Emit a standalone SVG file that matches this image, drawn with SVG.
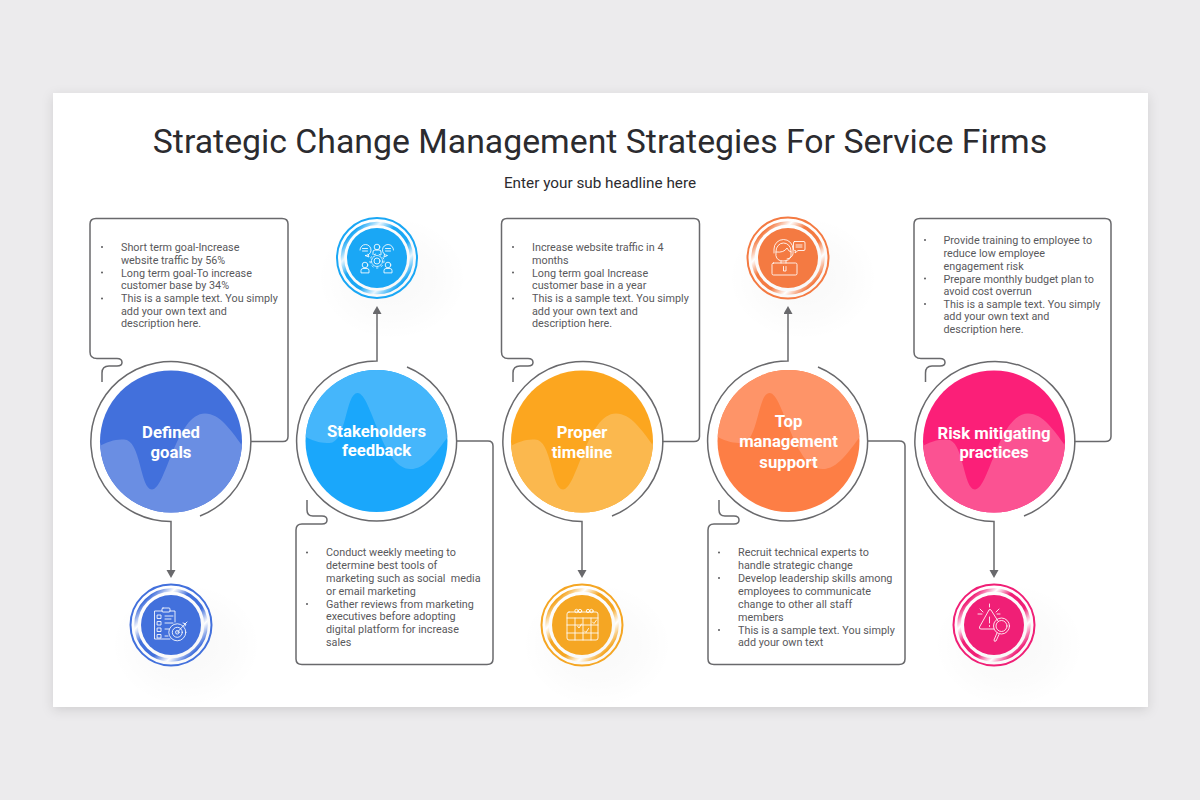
<svg xmlns="http://www.w3.org/2000/svg" width="1200" height="800" viewBox="0 0 1200 800">
<style>
text{font-family:Roboto,"Liberation Sans",sans-serif}
.title{font-size:33.8px;fill:#2b2b2f;text-anchor:middle}
.sub{font-size:15.3px;fill:#2b2b2f;text-anchor:middle}
.b{font-size:10.8px;fill:#59595c}
.l{font-size:16.7px;font-weight:700;fill:#fff;text-anchor:middle}
.c{fill:none;stroke:#69696c;stroke-width:1.5}
.i{fill:none;stroke:#fff;stroke-width:1;stroke-opacity:.85;stroke-linecap:round;stroke-linejoin:round}
</style>
<defs>
<filter id="cardShadow" x="-5%" y="-5%" width="110%" height="110%"><feDropShadow dx="0" dy="3" stdDeviation="6" flood-color="#000" flood-opacity=".12"/></filter>
<radialGradient id="soft"><stop offset="0" stop-color="#000" stop-opacity=".028"/><stop offset=".6" stop-color="#000" stop-opacity=".014"/><stop offset="1" stop-color="#000" stop-opacity="0"/></radialGradient>
<clipPath id="disc"><circle r="71"/></clipPath>
<path id="wave" d="M-74,6C-62,-1-55,-2-47,-2C-30,-2-31,48-19,48C-5,48 5,-28 34,-28C50,-28 62,-8 74,8L74,80L-74,80Z"/>
<marker id="arr" markerUnits="userSpaceOnUse" markerWidth="9" markerHeight="10" refX="0" refY="4.5" orient="auto"><path d="M0,0L8,4.5L0,9Z" fill="#69696c"/></marker>
<linearGradient id="gBlue" x1="0" y1="0" x2="1" y2="1"><stop offset=".14" stop-color="#4270dc"/><stop offset=".27" stop-color="#fff"/><stop offset=".4" stop-color="#4270dc"/><stop offset=".6" stop-color="#4270dc"/><stop offset=".73" stop-color="#fff"/><stop offset=".86" stop-color="#4270dc"/></linearGradient>
<linearGradient id="gSky" x1="0" y1="0" x2="1" y2="1"><stop offset=".14" stop-color="#1aa7f5"/><stop offset=".27" stop-color="#e8f6ff"/><stop offset=".4" stop-color="#1aa7f5"/><stop offset=".6" stop-color="#1aa7f5"/><stop offset=".73" stop-color="#e8f6ff"/><stop offset=".86" stop-color="#1aa7f5"/></linearGradient>
<linearGradient id="gAmber" x1="0" y1="0" x2="1" y2="1"><stop offset=".14" stop-color="#f5a623"/><stop offset=".27" stop-color="#fff"/><stop offset=".4" stop-color="#f5a623"/><stop offset=".6" stop-color="#f5a623"/><stop offset=".73" stop-color="#fff"/><stop offset=".86" stop-color="#f5a623"/></linearGradient>
<linearGradient id="gOrange" x1="0" y1="0" x2="1" y2="1"><stop offset=".14" stop-color="#f47a42"/><stop offset=".27" stop-color="#fff"/><stop offset=".4" stop-color="#f47a42"/><stop offset=".6" stop-color="#f47a42"/><stop offset=".73" stop-color="#fff"/><stop offset=".86" stop-color="#f47a42"/></linearGradient>
<linearGradient id="gPink" x1="0" y1="0" x2="1" y2="1"><stop offset=".14" stop-color="#f01f76"/><stop offset=".27" stop-color="#fff"/><stop offset=".4" stop-color="#f01f76"/><stop offset=".6" stop-color="#f01f76"/><stop offset=".73" stop-color="#fff"/><stop offset=".86" stop-color="#f01f76"/></linearGradient>
</defs>

<rect width="1200" height="800" fill="#ecebed"/>
<rect x="53" y="93" width="1095" height="614" fill="#fff" filter="url(#cardShadow)"/>
<text class="title" x="600" y="153">Strategic Change Management Strategies For Service Firms</text>
<text class="sub" x="600" y="188">Enter your sub headline here</text>

<g id="shadows">
<ellipse cx="186" cy="645" rx="75" ry="62" fill="url(#soft)"/>
<ellipse cx="392" cy="278" rx="75" ry="62" fill="url(#soft)"/>
<ellipse cx="597" cy="645" rx="75" ry="62" fill="url(#soft)"/>
<ellipse cx="803" cy="278" rx="75" ry="62" fill="url(#soft)"/>
<ellipse cx="1009" cy="645" rx="75" ry="62" fill="url(#soft)"/>
</g>

<g id="connectors">
<path class="c" marker-end="url(#arr)" d="M200,516A80,80 0 1 0 171,521.5V570"/>
<path class="c" marker-end="url(#arr)" d="M407,367A80,80 0 1 1 377,361V314"/>
<path class="c" marker-end="url(#arr)" d="M612,516A80,80 0 1 0 582,521.5V570"/>
<path class="c" marker-end="url(#arr)" d="M818,367A80,80 0 1 1 788,361V314"/>
<path class="c" marker-end="url(#arr)" d="M1024,516A80,80 0 1 0 994,521.5V570"/>
<path class="c" d="M251,441.5H283Q288,441.5 288,436.5V224Q288,218.500 282,218.500H96Q90,218.500 90,224V352Q90,358.500 97,358.500H117Q122,358.500 122,362.500Q122,366 117,366H109Q102,366 102,373V382"/>
<path class="c" d="M457,441H488Q493,441 493,446V659Q493,664.500 487,664.500H302Q296,664.500 296,659V530Q296,524 302,524H322Q327,524 327,520Q327,516 322,516H313Q307,516 307,510V500"/>
<path class="c" d="M662,441.500H694Q699.500,441.500 699.500,436.500V224Q699.500,218.500 694,218.500H507Q501.500,218.500 501.500,224V352Q501.500,358.500 508,358.500H528Q533,358.500 533,362.500Q533,366 528,366H520Q513,366 513,373V382"/>
<path class="c" d="M868,441H899Q905,441 905,446V659Q905,664.500 899,664.500H714Q708,664.500 708,659V530Q708,524 714,524H734Q739,524 739,520Q739,516 734,516H725Q719,516 719,510V500"/>
<path class="c" d="M1074,441.500H1105Q1111,441.500 1111,436.500V224Q1111,218.500 1105,218.500H920Q914,218.500 914,224V352Q914,358.500 921,358.500H940Q945,358.500 945,362.500Q945,366 940,366H932Q925.500,366 925.500,373V382"/>
</g>

<g id="node-defined-goals" transform="translate(171,441.5)">
<circle r="71" fill="#4270dc"/><g clip-path="url(#disc)"><use href="#wave" fill="#6a8ee3"/></g>
<text class="l" y="-3.500">Defined</text><text class="l" y="16.500">goals</text>
</g>
<g id="node-stakeholders" transform="translate(376.500,441)">
<circle r="71" fill="#1aa7fb"/><g clip-path="url(#disc)"><use href="#wave" transform="scale(1,-1)" fill="#45b6fb"/></g>
<text class="l" y="-4.500">Stakeholders</text><text class="l" y="15">feedback</text>
</g>
<g id="node-timeline" transform="translate(582,441.5)">
<circle r="71" fill="#fca61f"/><g clip-path="url(#disc)"><use href="#wave" fill="#fbb84e"/></g>
<text class="l" y="-3.500">Proper</text><text class="l" y="16">timeline</text>
</g>
<g id="node-support" transform="translate(788.500,441)">
<circle r="71" fill="#fd7e45"/><g clip-path="url(#disc)"><use href="#wave" transform="scale(1,-1)" fill="#fe9468"/></g>
<text class="l" y="-14">Top</text><text class="l" y="6">management</text><text class="l" y="26.500">support</text>
</g>
<g id="node-risk" transform="translate(994,441.5)">
<circle r="71" fill="#fb1f78"/><g clip-path="url(#disc)"><use href="#wave" fill="#fb5292"/></g>
<text class="l" y="-3">Risk mitigating</text><text class="l" y="16.500">practices</text>
</g>

<g id="text-goals">
<g class="bullets"><circle cx="102" cy="247" r="1" fill="#59595c"/><circle cx="102" cy="272.500" r="1" fill="#59595c"/><circle cx="102" cy="298.500" r="1" fill="#59595c"/></g>
<text class="b" x="121" y="250.500">Short term goal-Increase</text>
<text class="b" x="121" y="263.500">website traffic by 56%</text>
<text class="b" x="121" y="276.500">Long term goal-To increase</text>
<text class="b" x="121" y="289.200">customer base by 34%</text>
<text class="b" x="121" y="302.200">This is a sample text. You simply</text>
<text class="b" x="121" y="314.500">add your own text and</text>
<text class="b" x="121" y="327.200">description here.</text>
</g>
<g id="text-stakeholders">
<circle cx="307" cy="552.500" r="1" fill="#59595c"/><circle cx="307" cy="604" r="1" fill="#59595c"/>
<text class="b" x="326" y="556.200">Conduct weekly meeting to</text>
<text class="b" x="326" y="569">determine best tools of</text>
<text class="b" x="326" y="582" xml:space="preserve">marketing such as social  media</text>
<text class="b" x="326" y="594.700">or email marketing</text>
<text class="b" x="326" y="607.700">Gather reviews from marketing</text>
<text class="b" x="326" y="620">executives before adopting</text>
<text class="b" x="326" y="632.700">digital platform for increase</text>
<text class="b" x="326" y="645.700">sales</text>
</g>
<g id="text-timeline">
<circle cx="513" cy="247" r="1" fill="#59595c"/><circle cx="513" cy="272.500" r="1" fill="#59595c"/><circle cx="513" cy="298.500" r="1" fill="#59595c"/>
<text class="b" x="532" y="250.500">Increase website traffic in 4</text>
<text class="b" x="532" y="263.500">months</text>
<text class="b" x="532" y="276.500">Long term goal Increase</text>
<text class="b" x="532" y="289.200">customer base in a year</text>
<text class="b" x="532" y="302.200">This is a sample text. You simply</text>
<text class="b" x="532" y="314.500">add your own text and</text>
<text class="b" x="532" y="327.200">description here.</text>
</g>
<g id="text-support">
<circle cx="719" cy="552.500" r="1" fill="#59595c"/><circle cx="719" cy="578" r="1" fill="#59595c"/><circle cx="719" cy="630" r="1" fill="#59595c"/>
<text class="b" x="738" y="556">Recruit technical experts to</text>
<text class="b" x="738" y="569">handle strategic change</text>
<text class="b" x="738" y="582">Develop leadership skills among</text>
<text class="b" x="738" y="595">employees to communicate</text>
<text class="b" x="738" y="608">change to other all staff</text>
<text class="b" x="738" y="620.500">members</text>
<text class="b" x="738" y="633.500">This is a sample text. You simply</text>
<text class="b" x="738" y="646">add your own text</text>
</g>
<g id="text-risk">
<circle cx="925" cy="240" r="1" fill="#59595c"/><circle cx="925" cy="278.500" r="1" fill="#59595c"/><circle cx="925" cy="304" r="1" fill="#59595c"/>
<text class="b" x="943.500" y="244">Provide training to employee to</text>
<text class="b" x="943.500" y="256.700">reduce low employee</text>
<text class="b" x="943.500" y="269.700">engagement risk</text>
<text class="b" x="943.500" y="282.700">Prepare monthly budget plan to</text>
<text class="b" x="943.500" y="295.300">avoid cost overrun</text>
<text class="b" x="943.500" y="307.700">This is a sample text. You simply</text>
<text class="b" x="943.500" y="320.300">add your own text and</text>
<text class="b" x="943.500" y="333.300">description here.</text>
</g>

<g id="icon-target" transform="translate(171,625)">
<circle r="40.500" fill="none" stroke="#4270dc" stroke-width="2"/><circle r="35" fill="none" stroke="url(#gBlue)" stroke-width="3.500"/><circle r="30" fill="#4270dc"/>
<g class="i"><path d="M-1,-14H4V-3M-9,-14H-16.500V14H-1"/><rect x="-9" y="-17" width="8" height="4" rx="1"/>
<path d="M-13.500,-10h3.500v3.500h-3.500zM-13.500,-3.500h3.500v3.500h-3.500zM-13.500,3h3.500v3.500h-3.500zM-13.500,9.500h3.500v3.500h-3.500zM-6,-9H2M-6,-6H0M-6,-2H2M-6,4H-2M-6,11H-3"/>
<circle cx="6.300" cy="7.300" r="8.500"/><circle cx="6.300" cy="7.300" r="5"/><circle cx="6.300" cy="7.300" r="1.800"/><path d="M6.300,7.300L14,-1M12,-2L15,-1L14,1M14,-1L16,-3"/></g>
</g>
<g id="icon-people" transform="translate(377,258)">
<circle r="40" fill="none" stroke="#1aa7f5" stroke-width="2"/><circle r="34.500" fill="none" stroke="url(#gSky)" stroke-width="3.500"/><circle r="30" fill="#1aa7f5"/>
<g class="i"><path d="M-17,-8A5.500,5.500 0 1 1 -12,-2.500L-8,-1L-9,-3.800"/><path d="M16.500,-8A5.500,5.500 0 1 0 10.500,-2.500L7,-1L7.500,-3.800"/><path d="M-14.500,-9.500h5M-14.500,-7h5M8.500,-9.500h5M8.500,-7h5"/>
<circle cy="-11" r="2.800"/><path d="M-4,-3.500V-6Q-4,-8 -2,-8H2Q4,-8 4,-6V-3.500"/>
<circle cy="3" r="3"/><circle cy="3" r="5.500" stroke-dasharray="2 1"/><circle cy="3" r="7" stroke-dasharray="1.500 3.500"/>
<circle cx="-12" cy="7" r="2.800"/><path d="M-16,14.500V12.500Q-16,10.500 -14,10.500H-10Q-8,10.500 -8,12.500V14.500Z"/>
<circle cx="11" cy="7" r="2.800"/><path d="M7,14.500V12.500Q7,10.500 9,10.500H13Q15,10.500 15,12.500V14.500Z"/></g>
</g>
<g id="icon-calendar" transform="translate(582,625)">
<circle r="40.500" fill="none" stroke="#f5a623" stroke-width="2"/><circle r="35" fill="none" stroke="url(#gAmber)" stroke-width="3.500"/><circle r="30" fill="#f5a623"/>
<g class="i"><rect x="-15" y="-13" width="31" height="28" rx="2"/><path d="M-15,-7H16M-15,0H16M-15,8H16M-7,-7V15M1,-7V15M9,-7V15"/>
<circle cx="-5.500" cy="-14" r="1.700"/><circle cx="-2" cy="-14" r="1.700"/><circle cx="6" cy="-14" r="1.700"/><circle cx="9.500" cy="-14" r="1.700"/>
<path d="M10.500,-3L12,-1.500L14.500,-5M-4.500,1L-3,3L-0.500,-1M2.500,6L4,7.500L6.500,3.500"/></g>
</g>
<g id="icon-headset" transform="translate(788,258)">
<circle r="40.500" fill="none" stroke="#f47a42" stroke-width="2"/><circle r="35" fill="none" stroke="url(#gOrange)" stroke-width="3.500"/><circle r="30" fill="#f47a42"/>
<g class="i"><path d="M-12,-7A7.500,8 0 0 1 3,-7V-2Q2,3 -5,3Q-11,3 -12,-2Z"/><path d="M-14,-5V-9A9.500,9.500 0 0 1 5,-9V-4Q4,0 -1,1"/><path d="M-12,-6Q-4,-5 -1,-10Q1,-6 3,-6"/>
<path d="M-7,3V5M-2,3V5"/><rect x="-16" y="5" width="25" height="12" rx="1.500"/><path d="M-4.500,8.500V13H-2V8.500"/>
<path d="M6.500,-16.500H16Q17,-16.500 17,-15V-9Q17,-7.500 16,-7.500H10L7,-5L7.500,-7.500H6.500Q5.500,-7.500 5.500,-9V-15Q5.500,-16.500 6.500,-16.500ZM8,-13H14M8,-11H14"/></g>
</g>
<g id="icon-warning" transform="translate(994,625)">
<circle r="40.500" fill="none" stroke="#f01f76" stroke-width="2"/><circle r="35" fill="none" stroke="url(#gPink)" stroke-width="3.500"/><circle r="30" fill="#f01f76"/>
<g class="i"><path d="M-5,-15L-14.500,2Q-15,4 -13,4H0M-5,-15Q-4,-16.500 -3,-15L4,-4"/><path d="M-4.500,-8V-2M-4.500,0.500V1.500"/>
<circle cx="7.500" cy="1" r="8"/><circle cx="7.500" cy="1" r="5.500"/><path d="M3,8L0,15Q0,17 2,16L5,9.500"/>
<path d="M-14,-16L-11,-13M-16,-11H-12M5,-16L2,-13M6,-11H3M-4.500,-21V-18"/></g>
</g>
</svg>
